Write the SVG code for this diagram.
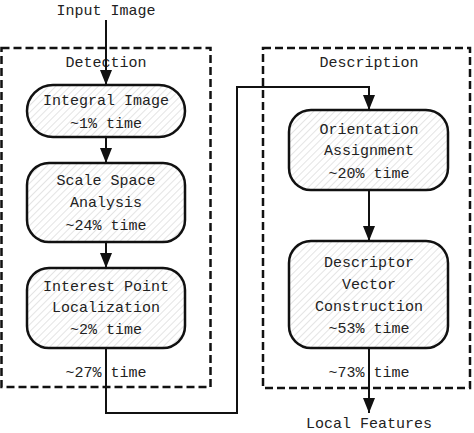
<svg xmlns="http://www.w3.org/2000/svg" width="474" height="433" viewBox="0 0 474 433">
<defs>
<pattern id="hatch" patternUnits="userSpaceOnUse" width="5" height="5" patternTransform="rotate(45)">
<rect width="5" height="5" fill="#ffffff"/>
<line x1="0" y1="0" x2="0" y2="5" stroke="#bdbdbd" stroke-width="0.8"/>
</pattern>
<marker id="arr" markerWidth="15" markerHeight="12" refX="15" refY="6" orient="auto" markerUnits="userSpaceOnUse" viewBox="0 0 15 12">
<path d="M0,0 L15,6 L0,12 Z" fill="#111"/>
</marker>
</defs>
<style>
.t{font-family:"Liberation Mono","DejaVu Sans Mono",monospace;font-size:15px;fill:#222;text-anchor:middle}
.node{fill:url(#hatch);stroke:#111;stroke-width:2.5}
.grp{fill:none;stroke:#111;stroke-width:2.5;stroke-dasharray:8,4}
.c{fill:none;stroke:#111;stroke-width:2}
</style>
<rect width="474" height="433" fill="#fff"/>
<g id="detection">
<rect class="grp" x="1.5" y="48" width="209" height="339"/>
<text class="t" x="106" y="67">Detection</text>
<text class="t" x="106" y="377">~27% time</text>
</g>
<g id="description">
<rect class="grp" x="263" y="48" width="207" height="340"/>
<text class="t" x="369" y="67">Description</text>
<text class="t" x="369" y="377">~73% time</text>
</g>
<g id="connectors">
<line class="c" x1="106" y1="20" x2="106" y2="85" marker-end="url(#arr)"/>
<line class="c" x1="106" y1="137" x2="106" y2="163" marker-end="url(#arr)"/>
<line class="c" x1="106" y1="242" x2="106" y2="268" marker-end="url(#arr)"/>
<polyline class="c" points="106,348 106,413 237,413 237,87 369,87 369,110" marker-end="url(#arr)"/>
<line class="c" x1="369" y1="190" x2="369" y2="241" marker-end="url(#arr)"/>
<line class="c" x1="369" y1="348" x2="369" y2="413" marker-end="url(#arr)"/>
</g>
<g id="input">
<text class="t" x="106" y="15">Input Image</text>
</g>
<g id="integral">
<rect class="node" x="27" y="85" width="158" height="52" rx="26"/>
<text class="t" x="106" y="105">Integral Image</text>
<text class="t" x="106" y="128">~1% time</text>
</g>
<g id="scale">
<rect class="node" x="27" y="163" width="158" height="79" rx="22"/>
<text class="t" x="106" y="185">Scale Space</text>
<text class="t" x="106" y="207">Analysis</text>
<text class="t" x="106" y="230">~24% time</text>
</g>
<g id="interest">
<rect class="node" x="27" y="268" width="158" height="80" rx="22"/>
<text class="t" x="106" y="291">Interest Point</text>
<text class="t" x="106" y="312">Localization</text>
<text class="t" x="106" y="334">~2% time</text>
</g>
<g id="orientation">
<rect class="node" x="289" y="110" width="159" height="80" rx="22"/>
<text class="t" x="369" y="134">Orientation</text>
<text class="t" x="369" y="155">Assignment</text>
<text class="t" x="369" y="178">~20% time</text>
</g>
<g id="descriptor">
<rect class="node" x="289" y="241" width="159" height="107" rx="22"/>
<text class="t" x="369" y="267">Descriptor</text>
<text class="t" x="369" y="289">Vector</text>
<text class="t" x="369" y="311">Construction</text>
<text class="t" x="369" y="333">~53% time</text>
</g>
<g id="output">
<text class="t" x="369" y="428">Local Features</text>
</g>
</svg>
